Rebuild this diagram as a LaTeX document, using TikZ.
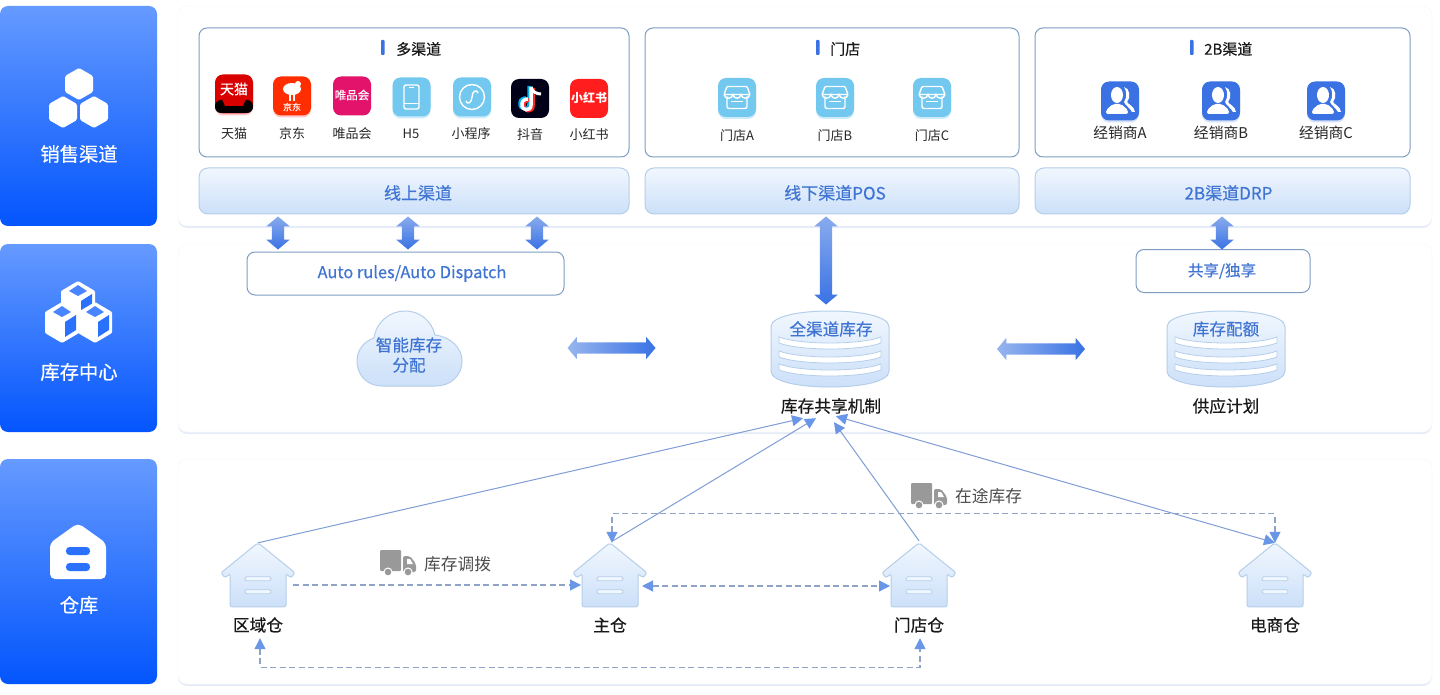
\documentclass[tikz,border=0pt]{standalone}
\usepackage{fontspec}
\setmainfont{Noto Sans CJK SC}
\newfontfamily\medfont{Noto Sans CJK SC}[RawFeature={embolden=0.35}]
\usetikzlibrary{arrows.meta,shapes.arrows,shadows}
\definecolor{sidetop}{HTML}{659AFF}
\definecolor{sidebot}{HTML}{0355FD}
\definecolor{boxline}{HTML}{7F9DC2}
\definecolor{paleline}{HTML}{B5CEEA}
\definecolor{paletop}{HTML}{F1F7FE}
\definecolor{palebot}{HTML}{CCE0F9}
\definecolor{txtblue}{HTML}{3F74D3}
\definecolor{barblue}{HTML}{3A72E4}
\definecolor{skyicon}{HTML}{72C8EE}
\definecolor{linkblue}{HTML}{7F9DD6}
\definecolor{tipblue}{HTML}{6A96E8}
\definecolor{dashgray}{HTML}{8FA3C6}
\definecolor{truckgray}{HTML}{999999}
\definecolor{panelshadow}{HTML}{E6ECF7}
\definecolor{paneledge}{HTML}{F4F6FB}
\tikzset{
	fs/.style={font=\fontsize{#1}{#1}\selectfont},
	ms/.style={font=\medfont\fontsize{#1}{#1}\selectfont},
	lab/.style={fs=#1,text=black!85,inner sep=0pt},
	mlab/.style={ms=#1,text=black!90,inner sep=0pt},
	side/.style={rectangle,rounded corners=8pt,top color=sidetop,bottom color=sidebot},
	sidetxt/.style={ms=19.3,text=white,inner sep=0pt},
	panel/.style={draw=paneledge,fill=white,rounded corners=9pt,drop shadow={shadow xshift=0pt,shadow yshift=-2pt,opacity=1,fill=panelshadow}},
	box/.style={rectangle,draw=boxline,line width=1pt,rounded corners=8pt,fill=white,inner sep=0pt},
	band/.style={rectangle,draw=paleline,line width=1pt,rounded corners=9pt,top color=paletop,bottom color=palebot,minimum height=46pt},
	bluetxt/.style={ms=#1,text=txtblue,inner sep=0pt,align=center},
	bar/.style={fill=barblue,rounded corners=0.8pt},
	icon/.style={rectangle,rounded corners=8pt,minimum width=38pt,minimum height=39pt,inner sep=0pt,fill=#1},
	glow/.style={drop shadow={shadow xshift=0pt,shadow yshift=-2pt,opacity=.35,fill=#1}},
	vbig/.style={double arrow,shape border rotate=90,inner sep=6pt,double arrow head extend=5.5pt,double arrow tip angle=100,top color=#1,bottom color=barblue},
	hbig/.style={double arrow,inner sep=5.5pt,minimum height=88pt,double arrow head extend=5.5pt,double arrow tip angle=100,left color=#1,right color=barblue},
	hnode/.style={rectangle,minimum width=74pt,minimum height=64pt,inner sep=0pt},
	link/.style={draw=linkblue,line width=1pt,-{Triangle[length=11pt,width=11pt,color=tipblue]}},
	link2/.style={draw=linkblue,line width=1pt,{Triangle[length=11pt,width=11pt,color=tipblue]}-{Triangle[length=11pt,width=11pt,color=tipblue]}},
	dlink/.style={draw=dashgray,line width=1.2pt,dash pattern=on 6pt off 3.5pt,{Triangle[length=11pt,width=11pt,color=tipblue]}-{Triangle[length=11pt,width=11pt,color=tipblue]}},
	dlink1/.style={draw=dashgray,line width=1.2pt,dash pattern=on 6pt off 3.5pt,-{Triangle[length=11pt,width=11pt,color=tipblue]}},
	pics/house/.style={code={
		\path[draw=paleline,line width=1pt,rounded corners=2pt,top color=paletop,bottom color=palebot]
			(0,0) -- (37,30) -- (33,35) -- (28,31) -- (28,64) -- (-28,64) -- (-28,31) -- (-33,35) -- (-37,30) -- cycle;
		\path[draw=paleline,fill=paletop,line width=.8pt,rounded corners=1.5pt] (-13,34) rectangle (13,38);
		\path[draw=paleline,fill=paletop,line width=.8pt,rounded corners=1.5pt] (-13,47) rectangle (13,51);
	}},
	pics/db/.style={code={
		\path[draw=paleline,line width=1pt,top color=paletop,bottom color=palebot]
			(-59,-22) .. controls (-59,-33) and (-30,-38) .. (0,-38) .. controls (30,-38) and (59,-33) .. (59,-22)
			-- (59,22) .. controls (59,33) and (30,38) .. (0,38) .. controls (-30,38) and (-59,33) .. (-59,22) -- cycle;
		\foreach \a in {-12,2,15}
			\path[draw=paleline,fill=white,line width=.8pt]
				(-51,\a) .. controls (-30,\a+8) and (30,\a+8) .. (51,\a) -- (51,\a+6)
				.. controls (30,\a+14) and (-30,\a+14) .. (-51,\a+6) -- cycle;
	}},
	pics/truck/.style={code={
		\fill[truckgray,rounded corners=1pt] (0,0) rectangle (21,21);
		\fill[truckgray,rounded corners=2pt] (23,6) -- (30,6) -- (36,14) -- (36,22) -- (23,22) -- cycle;
		\fill[white] (27,9) -- (30,9) -- (33,14) -- (27,14) -- cycle;
		\fill[truckgray,draw=white,line width=1pt] (8,22) circle[radius=4];
		\fill[truckgray,draw=white,line width=1pt] (28,22) circle[radius=4];
	}},
	pics/store/.style={code={
		\draw[white,line width=1.4pt,rounded corners=1pt] (-10,-11) -- (10,-11) -- (13,-3) -- (-13,-3) -- cycle;
		\draw[white,line width=1.4pt,rounded corners=2pt] (-10,-1) -- (-10,11) -- (10,11) -- (10,-1);
		\draw[white,line width=1.4pt] (-13,-3) .. controls (-12,2) and (-5,2) .. (-4,-3) .. controls (-3,2) and (3,2) .. (4,-3) .. controls (5,2) and (12,2) .. (13,-3);
		\draw[white,line width=1.4pt,rounded corners=1pt] (-6,4) -- (6,4);
	}},
	pics/dealer/.style={code={
		\fill[white] (-3,-6) ellipse[x radius=6,y radius=8];
		\fill[white,rounded corners=2pt] (-14,13) -- (-14,9) -- (-7,3) -- (1,3) -- (8,9) -- (8,13) -- cycle;
		\fill[white] (4,-14) .. controls (10,-13) and (11,-3) .. (7,1) .. controls (9,4) and (14,5) .. (15,11) -- (12,11) .. controls (10,7) and (5,4) .. (4,1) .. controls (7,-3) and (7,-10) .. (4,-14) -- cycle;
	}},
	pics/cube/.style={code={
		\fill[white,rounded corners=1pt] (0,0) -- (17,10) -- (17,31) -- (0,41) -- (-17,31) -- (-17,10) -- cycle;
		\fill[sidetop!70!sidebot] (0,4) -- (9,10) -- (0,15) -- (-9,10) -- cycle;
		\fill[sidetop!40!sidebot] (3,20) -- (14,13) -- (14,28) -- (3,35) -- cycle;
	}},
}
\begin{document}
\begin{tikzpicture}[x=1pt,y=-1pt]
	\useasboundingbox (0,0) rectangle (1440,695);
	%Panneaux
	\path[panel] (178,6) rectangle (1432,226);
	\path[panel] (178,244) rectangle (1432,432);
	\path[panel] (178,459) rectangle (1432,684);
	\path[side] (0,6) rectangle (157,226);
	\path[side] (0,244) rectangle (157,432);
	\path[side] (0,459) rectangle (157,684);
	\node[sidetxt] (side1) at (79,154) {销售渠道};
	\node[sidetxt] (side2) at (79,372) {库存中心};
	\node[sidetxt] (side3) at (79,605) {仓库};
	%Icones de gauche
	\fill[white,rounded corners=1.5pt] (79,68) -- (93,76) -- (93,92) -- (79,100) -- (65,92) -- (65,76) -- cycle;
	\fill[white,rounded corners=1.5pt] (63,96) -- (77,104) -- (77,120) -- (63,128) -- (49,120) -- (49,104) -- cycle;
	\fill[white,rounded corners=1.5pt] (94,96) -- (108,104) -- (108,120) -- (94,128) -- (80,120) -- (80,104) -- cycle;
	\pic at (78,281) {cube};
	\pic at (62,302) {cube};
	\pic at (95,302) {cube};
	\fill[white,rounded corners=5pt] (78,523) -- (106,543) -- (106,579) -- (50,579) -- (50,543) -- cycle;
	\fill[sidetop!40!sidebot,rounded corners=3.5pt] (66,547) rectangle (90,555);
	\fill[sidetop!40!sidebot,rounded corners=3.5pt] (66,563) rectangle (90,571);
	%Canaux
	\node[box,minimum width=430pt,minimum height=129pt] (box1) at (414,92.5) {};
	\node[box,minimum width=374pt,minimum height=129pt] (box2) at (832,92.5) {};
	\node[box,minimum width=375pt,minimum height=129pt] (box3) at (1222.5,92.5) {};
	\fill[bar] (381,40) rectangle (384.5,55);
	\fill[bar] (816,40) rectangle (819.5,55);
	\fill[bar] (1190,40) rectangle (1193.5,55);
	\node[mlab=15,anchor=west] (title1) at (396,49) {多渠道};
	\node[mlab=15,anchor=west] (title2) at (830,49) {门店};
	\node[mlab=15,anchor=west] (title3) at (1204,49) {2B渠道};
	\node[band,minimum width=430pt] (band1) at (414,191) {};
	\node[band,minimum width=374pt] (band2) at (832,191) {};
	\node[band,minimum width=375pt] (band3) at (1222.5,191) {};
	\node[bluetxt=17] (bandlab1) at (418,193) {线上渠道};
	\node[bluetxt=17] (bandlab2) at (835,193) {线下渠道POS};
	\node[bluetxt=17] (bandlab3) at (1228.5,193) {2B渠道DRP};
	%Applications
	\node[icon=red!85!black,glow=red!60] (tmall) at (234,94) {};
	\fill[black,rounded corners=6pt] (215,100) -- (253,100) -- (253,113) -- (215,113) -- cycle;
	\fill[red!85!black] (222,99) -- (246,99) -- (243,106) -- (225,106) -- cycle;
	\node[bluetxt=14,text=white] at (234,89) {天猫};
	\node[icon=red!65!orange,glow=red!60] (jd) at (292,96) {};
	\fill[white] (292,89) ellipse[x radius=9,y radius=6];
	\fill[white] (298,84) circle[radius=3];
	\draw[white,line width=1.2pt] (290,94) -- (290,101) (294,94) -- (294,101);
	\node[bluetxt=9,text=white] at (292,107) {京东};
	\node[icon={magenta!70!red!95!black}] (vip) at (352,96) {};
	\node[bluetxt=11.5,text=white] at (352,95) {唯品会};
	\node[icon=skyicon,glow=skyicon] (hfive) at (411.5,97) {};
	\draw[white,line width=1.4pt,rounded corners=2pt] (404,85) rectangle (419,109);
	\draw[white,line width=1pt] (404,104) -- (419,104) (409,88) -- (414,88);
	\node[icon=skyicon,glow=skyicon] (mini) at (472,97) {};
	\draw[white,line width=1.4pt] (472,97) circle[radius=12.5];
	\draw[white,line width=1.4pt] (466,101) .. controls (467,105) and (472,103) .. (472,97) .. controls (472,91) and (477,89) .. (478,93);
	\node[icon={black!90!blue}] (douyin) at (530,98.5) {};
	\draw[cyan,line width=3.5pt] (529,86) -- (529,104) .. controls (529,111) and (519,110) .. (520,103) .. controls (520,99) and (524,98) .. (526,98);
	\draw[red!80!pink,line width=3.5pt] (533,88) -- (533,106) .. controls (533,113) and (523,112) .. (524,105) .. controls (524,101) and (528,100) .. (530,100);
	\draw[white,line width=3.5pt] (531,87) -- (531,105) .. controls (531,112) and (521,111) .. (522,104) .. controls (522,100) and (526,99) .. (528,99);
	\draw[white,line width=3pt] (531,87) .. controls (532,92) and (537,94) .. (541,94);
	\node[icon=red!85!pink] (xhs) at (589,98.5) {};
	\node[bluetxt=12,text=white,font=\fontsize{12}{12}\selectfont\bfseries] at (589,98) {小红书};
	\node[lab=13] (app1) at (234,134) {天猫};
	\node[lab=13] (app2) at (292,134) {京东};
	\node[lab=13] (app3) at (352,134) {唯品会};
	\node[lab=13] (app4) at (411,134) {H5};
	\node[lab=13] (app5) at (471,134) {小程序};
	\node[lab=13] (app6) at (530,135) {抖音};
	\node[lab=13] (app7) at (589,135) {小红书};
	%Magasins
	\node[icon=skyicon,glow=skyicon] (shop1) at (737,97.5) {};
	\node[icon=skyicon,glow=skyicon] (shop2) at (835,97.5) {};
	\node[icon=skyicon,glow=skyicon] (shop3) at (932,97.5) {};
	\pic at (shop1) {store};
	\pic at (shop2) {store};
	\pic at (shop3) {store};
	\node[lab=13] (shoplab1) at (737,136) {门店A};
	\node[lab=13] (shoplab2) at (835,136) {门店B};
	\node[lab=13] (shoplab3) at (932,136) {门店C};
	%Distributeurs
	\node[icon=barblue,glow=barblue!60] (deal1) at (1120,101) {};
	\node[icon=barblue,glow=barblue!60] (deal2) at (1221,101) {};
	\node[icon=barblue,glow=barblue!60] (deal3) at (1326,101) {};
	\pic at (deal1) {dealer};
	\pic at (deal2) {dealer};
	\pic at (deal3) {dealer};
	\node[lab=14.8] (deallab1) at (1120,133) {经销商A};
	\node[lab=14.8] (deallab2) at (1221,133) {经销商B};
	\node[lab=14.8] (deallab3) at (1326,133) {经销商C};
	%Stock
	\node[box,minimum width=317pt,minimum height=43pt] (rules) at (405.5,273.5) {};
	\node[box,minimum width=174pt,minimum height=43pt] (quota) at (1223,271) {};
	\node[bluetxt=16.4] (ruleslab) at (412,273.5) {Auto rules/Auto Dispatch};
	\node[bluetxt=15.5] (quotalab) at (1222,271) {共享/独享};
	\node[vbig=tipblue!80!white,minimum height=33pt] (up1) at (278,233) {};
	\node[vbig=tipblue!80!white,minimum height=33pt] (up2) at (408,233) {};
	\node[vbig=tipblue!80!white,minimum height=33pt] (up3) at (537,233) {};
	\node[vbig=tipblue!80!white,minimum height=88pt] (up4) at (826,260.5) {};
	\node[vbig=tipblue!80!white,minimum height=33pt] (up5) at (1222,233) {};
	\path[draw=paleline,line width=1pt,top color=paletop,bottom color=palebot] (382,386) .. controls (366,386) and (357,374) .. (357,361)
		.. controls (357,349) and (365,341) .. (374,338) .. controls (376,322) and (390,311) .. (405,311)
		.. controls (421,311) and (432,322) .. (435,335) .. controls (451,337) and (462,348) .. (462,361)
		.. controls (462,376) and (450,386) .. (436,386) -- cycle;
	\node[bluetxt=16.6] (cloud) at (409,355) {智能库存\\[3.5pt]分配};
	\node[hbig=tipblue!70!white] (lr1) at (611.5,348) {};
	\node[hbig=tipblue!70!white] (lr2) at (1041,349) {};
	\pic at (830,349) {db};
	\pic at (1226,349) {db};
	\node[bluetxt=16.6] (db1) at (831,329) {全渠道库存};
	\node[bluetxt=16.6] (db2) at (1226,329) {库存配额};
	\node[mlab=16.7,minimum height=20pt] (share) at (831,406) {库存共享机制};
	\node[mlab=16.7] (plan) at (1226,406) {供应计划};
	%Entrepots
	\node[hnode] (wh1) at (258,575) {};
	\node[hnode] (wh2) at (610,575) {};
	\node[hnode] (wh3) at (919,575) {};
	\node[hnode] (wh4) at (1275,575) {};
	\pic at (wh1.north) {house};
	\pic at (wh2.north) {house};
	\pic at (wh3.north) {house};
	\pic at (wh4.north) {house};
	\node[mlab=16.7,minimum height=22pt] (whlab1) at (258,625) {区域仓};
	\node[mlab=16.7,minimum height=22pt] (whlab2) at (610,625) {主仓};
	\node[mlab=16.7,minimum height=22pt] (whlab3) at (919,625) {门店仓};
	\node[mlab=16.7,minimum height=22pt] (whlab4) at (1275,625) {电商仓};
	\pic at (380,550) {truck};
	\pic at (911,483) {truck};
	\node[lab=16.7,text=black!70,anchor=west] (move) at (424,564) {库存调拨};
	\node[lab=16.7,text=black!70,anchor=west] (transit) at (955,496) {在途库存};
	%Fleches
	\draw[link] (wh1.north) -- ([shift={(-28,2)}]share.south);
	\draw[link] ([shift={(3,-2)}]wh2.north) -- ([shift={(-15,2)}]share.south);
	\draw[link] ([shift={(0,-2)}]wh3.north) -- ([shift={(3,6)}]share.south);
	\draw[link2] (wh4.north) -- ([shift={(5,0)}]share.south);
	\draw[dlink1] ([shift={(-2,10)}]wh1.east) -- ([shift={(-29,10)}]wh2.center);
	\draw[dlink] ([shift={(32,11)}]wh2.center) -- ([shift={(-29,11)}]wh3.center);
	\draw[dlink] ([xshift=2pt]wh2.north) -- ++(0,-29) -| (wh4.north);
	\draw[dlink] ([xshift=2pt,yshift=-2pt]whlab1.south) -- ++(0,29) -| ([xshift=1pt,yshift=-2pt]whlab3.south);
\end{tikzpicture}
\end{document}
